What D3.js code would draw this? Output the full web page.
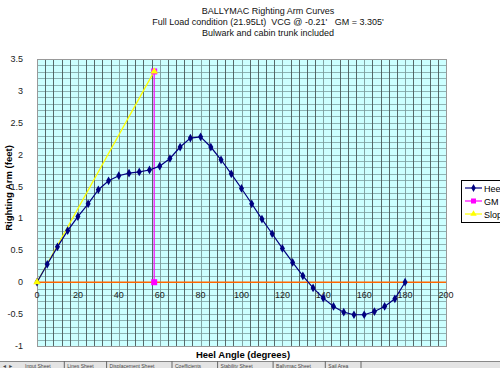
<!DOCTYPE html>
<html>
<head>
<meta charset="utf-8">
<script src="https://cdn.jsdelivr.net/npm/d3@7"></script>
<style>
	body { margin: 0; background: #fff; overflow: hidden; }
	svg { font-family: Arial, "Liberation Sans", sans-serif; }
	text { white-space: pre; }
</style>
</head>
<body>
<div id="chart-area"></div>
<script>
// data
let heelAngles = [0, 5, 10, 15, 20, 25, 30, 35, 40, 45, 50, 55, 60, 65, 70, 75, 80, 85, 90,
	95, 100, 105, 110, 115, 120, 125, 130, 135, 140, 145, 150, 155, 160, 165, 170, 175, 180];
let rightingArm = [0, 0.28, 0.555, 0.81, 1.03, 1.23, 1.45, 1.59, 1.67, 1.71, 1.73, 1.76, 1.82,
	1.94, 2.12, 2.26, 2.28, 2.12, 1.92, 1.70, 1.47, 1.23, 0.99, 0.76, 0.53, 0.31, 0.10,
	-0.09, -0.25, -0.38, -0.47, -0.51, -0.51, -0.46, -0.38, -0.26, 0];
let gmAngles = [57.3, 57.3];
let gmValues = [0, 3.305];
let slopeAngles = [0, 57.3];
let slopeValues = [0, 3.305];
let xTicks = [0, 20, 40, 60, 80, 100, 120, 140, 160, 180, 200];
let yTicks = [-1, -0.5, 0, 0.5, 1, 1.5, 2, 2.5, 3, 3.5];
let titleLines = ["BALLYMAC Righting Arm Curves",
	"Full Load condition (21.95Lt)  VCG @ -0.21'   GM = 3.305'",
	"Bulwark and cabin trunk included"];
let legendNames = ["Heel Angle", "GM plot", "Slope at origin"];
let sheetTabs = ["Input Sheet", "Lines Sheet", "Displacement Sheet", "Coefficients", "Stability Sheet", "Ballymac Sheet", "Sail Area"];

let width = 500, height = 368;
let plot = {left: 37, right: 446, top: 59, bottom: 346};

let svg = d3.select("#chart-area").append("svg")
	.attr("width", width)
	.attr("height", height);

let xScale = d3.scaleLinear().domain([0, 200]).range([plot.left, plot.right]);
let yScale = d3.scaleLinear().domain([-1, 3.5]).range([plot.bottom, plot.top]);

// plot background
svg.append("rect")
	.attr("x", plot.left).attr("y", plot.top)
	.attr("width", plot.right - plot.left).attr("height", plot.bottom - plot.top)
	.attr("fill", "#ccffff");

// horizontal gridlines every 0.1
let hLines = d3.range(-10, 36).map(i => i / 10);
svg.append("g").selectAll("line")
	.data(hLines)
	.enter().append("line")
	.attr("x1", plot.left).attr("x2", plot.right)
	.attr("y1", d => Math.round(yScale(d)) + 0.5)
	.attr("y2", d => Math.round(yScale(d)) + 0.5)
	.attr("stroke", "#8cb4b4")
	.attr("stroke-width", 1);

// vertical gridlines every 4 degrees
let vLines = d3.range(0, 51).map(i => i * 4);
svg.append("g").selectAll("line")
	.data(vLines)
	.enter().append("line")
	.attr("x1", d => Math.round(xScale(d)) + 0.5)
	.attr("x2", d => Math.round(xScale(d)) + 0.5)
	.attr("y1", plot.top).attr("y2", plot.bottom)
	.attr("stroke", d => d % 20 == 0 ? "#7a9a9a" : "#485858")
	.attr("stroke-width", 0.9);

svg.append("rect")
	.attr("x", plot.left + 0.5).attr("y", plot.top + 0.5)
	.attr("width", plot.right - plot.left).attr("height", plot.bottom - plot.top)
	.attr("fill", "none")
	.attr("stroke", "#999");

// zero line (x axis)
svg.append("line")
	.attr("x1", plot.left).attr("x2", plot.right)
	.attr("y1", yScale(0)).attr("y2", yScale(0))
	.attr("stroke", "#ff6600")
	.attr("stroke-width", 1.6);

// y tick labels
svg.append("g").selectAll("text")
	.data(yTicks)
	.enter().append("text")
	.attr("x", 23)
	.attr("y", d => yScale(d) + 3)
	.attr("text-anchor", "end")
	.attr("font-size", "9px")
	.attr("fill", "#222")
	.text(d => d);

// x tick labels
svg.append("g").selectAll("text")
	.data(xTicks)
	.enter().append("text")
	.attr("x", d => xScale(d))
	.attr("y", yScale(0) + 16)
	.attr("text-anchor", "middle")
	.attr("font-size", "9px")
	.attr("fill", "#222")
	.text(d => d);

let line = d3.line()
	.x(d => xScale(d[0]))
	.y(d => yScale(d[1]));

// slope at origin
let slopeData = slopeAngles.map((a, i) => [a, slopeValues[i]]);
svg.append("path")
	.datum(slopeData)
	.attr("d", line)
	.attr("fill", "none")
	.attr("stroke", "#ffff00")
	.attr("stroke-width", 1.3);

// GM plot
let gmData = gmAngles.map((a, i) => [a, gmValues[i]]);
svg.append("path")
	.datum(gmData)
	.attr("d", line)
	.attr("fill", "none")
	.attr("stroke", "#ff00ff")
	.attr("stroke-width", 1.2);

// heel angle curve
let heelData = heelAngles.map((a, i) => [a, rightingArm[i]]);
svg.append("path")
	.datum(heelData)
	.attr("d", line)
	.attr("fill", "none")
	.attr("stroke", "#000080")
	.attr("stroke-width", 1.2);

svg.append("g").selectAll("path")
	.data(heelData)
	.enter().append("path")
	.attr("d", d3.symbol(d3.symbolDiamond, 22))
	.attr("transform", d => "translate(" + xScale(d[0]) + "," + yScale(d[1]) + ")")
	.attr("fill", "#000080");

svg.append("g").selectAll("rect")
	.data(gmData)
	.enter().append("rect")
	.attr("x", d => xScale(d[0]) - 3)
	.attr("y", d => yScale(d[1]) - 3)
	.attr("width", 6).attr("height", 6)
	.attr("fill", "#ff00ff");

svg.append("g").selectAll("path")
	.data(slopeData)
	.enter().append("path")
	.attr("d", d3.symbol(d3.symbolTriangle, 24))
	.attr("transform", d => "translate(" + xScale(d[0]) + "," + yScale(d[1]) + ")")
	.attr("fill", "#ffff00");

// titles
svg.append("g").selectAll("text")
	.data(titleLines)
	.enter().append("text")
	.attr("x", 268)
	.attr("y", (d, i) => 14 + i * 11)
	.attr("text-anchor", "middle")
	.attr("font-size", "9px")
	.attr("fill", "#111")
	.text(d => d);

svg.append("text")
	.attr("transform", "rotate(-90)")
	.attr("x", -188)
	.attr("y", 12)
	.attr("text-anchor", "middle")
	.attr("font-size", "9.5px")
	.attr("font-weight", "bold")
	.text("Righting Arm (feet)");

svg.append("text")
	.attr("x", 243)
	.attr("y", 358)
	.attr("text-anchor", "middle")
	.attr("font-size", "9.5px")
	.attr("font-weight", "bold")
	.text("Heel Angle (degrees)");

// legend (runs off the right edge like the original)
let legend = svg.append("g").attr("transform", "translate(461,180)");
legend.append("rect")
	.attr("x", 0.5).attr("y", 0.5)
	.attr("width", 60).attr("height", 42)
	.attr("fill", "#fff")
	.attr("stroke", "#000");
let legendColors = ["#000080", "#ff00ff", "#ffff00"];
legendNames.forEach((name, i) => {
	let g = legend.append("g").attr("transform", "translate(0," + (8 + i * 13) + ")");
	g.append("line")
		.attr("x1", 4).attr("x2", 21)
		.attr("stroke", legendColors[i]).attr("stroke-width", 1.2);
	if (i == 0) {
		g.append("path").attr("d", d3.symbol(d3.symbolDiamond, 18))
			.attr("transform", "translate(12.5,0)").attr("fill", legendColors[i]);
	} else if (i == 1) {
		g.append("rect").attr("x", 10).attr("y", -2.5).attr("width", 5).attr("height", 5)
			.attr("fill", legendColors[i]);
	} else {
		g.append("path").attr("d", d3.symbol(d3.symbolTriangle, 18))
			.attr("transform", "translate(12.5,0)").attr("fill", legendColors[i]);
	}
	g.append("text")
		.attr("x", 23).attr("y", 3.5)
		.attr("font-size", "9px")
		.text(name);
});

// spreadsheet tab strip at the bottom
svg.append("rect")
	.attr("x", 0).attr("y", 361)
	.attr("width", width).attr("height", 7)
	.attr("fill", "#e4e4e4");
svg.append("line")
	.attr("x1", 0).attr("x2", width)
	.attr("y1", 361.5).attr("y2", 361.5)
	.attr("stroke", "#888");
let tabX = 22;
sheetTabs.forEach(t => {
	let tw = t.length * 3.3 + 6;
	svg.append("text")
		.attr("x", tabX + 3).attr("y", 367.5)
		.attr("font-size", "5px")
		.attr("fill", "#444")
		.text(t);
	svg.append("line")
		.attr("x1", tabX + tw).attr("x2", tabX + tw)
		.attr("y1", 361).attr("y2", 368)
		.attr("stroke", "#666");
	tabX += tw;
});
svg.append("text")
	.attr("x", 2).attr("y", 367.5)
	.attr("font-size", "5px")
	.attr("fill", "#444")
	.text("\u25c4 \u25ba");
</script>
</body>
</html>
